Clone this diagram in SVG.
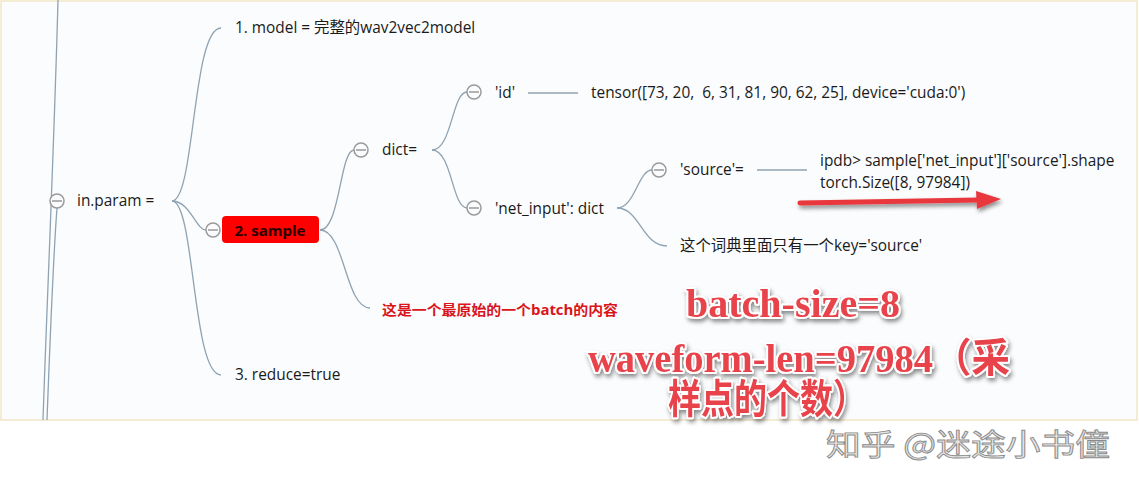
<svg xmlns="http://www.w3.org/2000/svg" width="1139" height="489" viewBox="0 0 1139 489">
<defs>
<style>
.t{font-family:"Open Sans","Noto Sans CJK SC",sans-serif;font-size:15.4px;fill:#1a1a1a}
.c{fill:none;stroke:#8fa3b3;stroke-width:1.3}
.k{fill:#fbfcfd;stroke:#9a9a9a;stroke-width:1.5}
.big{font-family:"Liberation Serif","Noto Sans CJK SC",serif;font-weight:bold;font-size:40px;fill:#e8434c;stroke:#ffffff;stroke-width:4;paint-order:stroke;stroke-linejoin:round}
</style>
<filter id="sh" x="-10%" y="-30%" width="120%" height="160%">
<feDropShadow dx="1.5" dy="3" stdDeviation="2" flood-color="#000" flood-opacity="0.45"/>
</filter>
<g id="minus"><circle class="k" cx="0" cy="0" r="7"/><line x1="-5" y1="0" x2="5" y2="0" stroke="#9a9a9a" stroke-width="1.5"/></g>
</defs>
<rect x="0" y="0" width="1139" height="489" fill="#ffffff"/>
<rect x="1" y="1" width="1136" height="419" fill="#fbfcfd" stroke="#f2e6c6" stroke-width="1.5"/>

<g id="connectors">
<path class="c" d="M58,0 C54,150 47,300 43,420"/>
<path class="c" d="M57,208 C53,260 50,340 47,420"/>
<path class="c" d="M172,201 C195,201 192,28 221,28"/>
<path class="c" d="M172,201 C190,201 196,230 206,230"/>
<path class="c" d="M172,201 C195,201 192,375 221,375"/>
<path class="c" d="M320,230 C340,230 340,150 354,150"/>
<path class="c" d="M320,230 C345,230 345,308 370,308"/>
<path class="c" d="M432,150 C452,150 452,92 467,92"/>
<path class="c" d="M432,150 C452,150 452,208 467,208"/>
<line class="c" x1="528" y1="93" x2="578" y2="93"/>
<path class="c" d="M617,208 C635,208 638,170 652,170"/>
<path class="c" d="M617,208 C640,208 642,246 667,246"/>
<line class="c" x1="757" y1="170" x2="807" y2="170"/>
</g>

<g id="n-root"><use href="#minus" x="57" y="201"/><text class="t" x="77" y="206">in.param =</text></g>
<g id="n-model"><text class="t" x="235" y="33">1. model = 完整的wav2vec2model</text></g>
<g id="n-sample"><use href="#minus" x="213" y="230"/><rect x="222" y="216" width="97" height="27" rx="4" fill="#fe0000"/><text x="270" y="236" text-anchor="middle" font-family="Open Sans,Noto Sans,sans-serif" font-weight="bold" font-size="15" fill="#2a0000">2. sample</text></g>
<g id="n-reduce"><text class="t" x="235" y="380">3. reduce=true</text></g>
<g id="n-dict"><use href="#minus" x="361" y="150"/><text class="t" x="382" y="155">dict=</text></g>
<g id="n-note1"><text x="382" y="315" font-family="Open Sans,Noto Sans CJK SC,sans-serif" font-weight="bold" font-size="14" fill="#d9141b" textLength="236" lengthAdjust="spacingAndGlyphs">这是一个最原始的一个batch的内容</text></g>
<g id="n-id"><use href="#minus" x="474" y="92"/><text class="t" x="495" y="98">'id'</text></g>
<g id="n-tensor"><text class="t" x="591" y="98" xml:space="preserve">tensor([73, 20,  6, 31, 81, 90, 62, 25], device='cuda:0')</text></g>
<g id="n-netinput"><use href="#minus" x="474" y="208"/><text class="t" x="495" y="214">'net_input': dict</text></g>
<g id="n-source"><use href="#minus" x="659" y="170"/><text class="t" x="680" y="175">'source'=</text></g>
<g id="n-shape"><text class="t" x="820" y="166">ipdb&gt; sample['net_input']['source'].shape</text><text class="t" x="820" y="188">torch.Size([8, 97984])</text></g>
<g id="n-note2"><text class="t" x="680" y="251">这个词典里面只有一个key='source'</text></g>

<g id="arrow" filter="url(#sh)">
<path d="M800,203 L978,200" stroke="#e8383d" stroke-width="5" stroke-linecap="round" fill="none"/>
<path d="M976,191 L1001,199 L977,209 Z" fill="#e8383d"/>
</g>

<g id="annot" filter="url(#sh)">
<text class="big" x="686" y="317" textLength="214" lengthAdjust="spacingAndGlyphs">batch-size=8</text>
<text class="big" x="588" y="372" textLength="422" lengthAdjust="spacingAndGlyphs">waveform-len=97984（采</text>
<text class="big" x="668" y="413" textLength="198" lengthAdjust="spacingAndGlyphs" font-weight="normal">样点的个数）</text>
</g>
<g id="watermark">
<text x="826" y="455" font-family="Noto Sans CJK SC,sans-serif" font-size="30" fill="#e6e6e6" stroke="#8a8a8a" stroke-width="0.9" textLength="284" lengthAdjust="spacingAndGlyphs">知乎 @迷途小书僮</text>
</g>
</svg>
